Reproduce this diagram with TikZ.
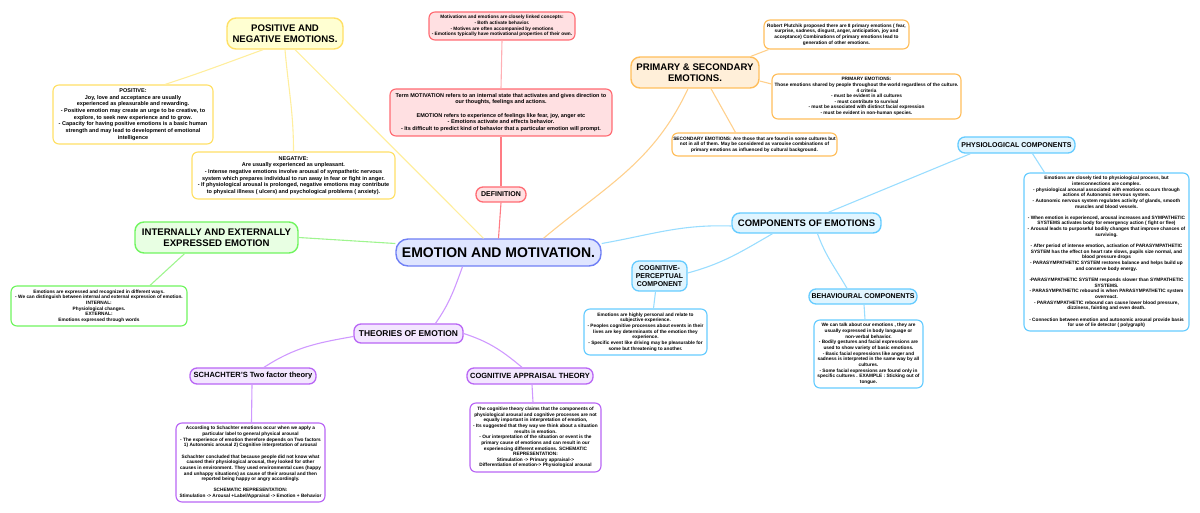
\documentclass[tikz,border=0pt]{standalone}
\usepackage{fontspec}
\setmainfont{Liberation Sans}
\definecolor{yl}{HTML}{FFE066}
\definecolor{ylf}{HTML}{FFFFD2}
\definecolor{yll}{HTML}{FFEE9E}
\definecolor{rd}{HTML}{FF6B73}
\definecolor{rdf}{HTML}{FFE0E2}
\definecolor{rdl}{HTML}{FF7C84}
\definecolor{og}{HTML}{FFBE5C}
\definecolor{ogf}{HTML}{FFEFD9}
\definecolor{ogl}{HTML}{FFD08C}
\definecolor{bl}{HTML}{66CCFF}
\definecolor{blf}{HTML}{E0F5FF}
\definecolor{bll}{HTML}{99DDFF}
\definecolor{gn}{HTML}{70F55F}
\definecolor{gnf}{HTML}{E8FFE3}
\definecolor{gnl}{HTML}{9FF58F}
\definecolor{pu}{HTML}{B966F5}
\definecolor{puf}{HTML}{F3E6FF}
\definecolor{pul}{HTML}{CF99FF}
\definecolor{cn}{HTML}{6F7FF5}
\definecolor{cnf}{HTML}{DFE5FF}
\tikzset{
  wh/.style 2 args={minimum width=#1pt,minimum height=#2pt},
  leaf/.style={draw=#1,fill=white,line width=1.15pt,rounded corners=6pt,align=center,inner sep=0pt,
    font=\fontsize{4.75}{5.65}\selectfont\bfseries},
  leafbig/.style={draw=#1,fill=white,line width=1.15pt,rounded corners=6pt,align=center,inner sep=0pt,
    font=\fontsize{5.5}{6.67}\selectfont\bfseries},
  head/.style 2 args={draw=#1,fill=#2,line width=1.3pt,rounded corners=7pt,align=center,inner sep=0pt,
    font=\fontsize{7}{7.7}\selectfont\bfseries},
  headbig/.style 2 args={draw=#1,fill=#2,line width=1.4pt,rounded corners=9pt,align=center,inner sep=0pt,
    font=\fontsize{9.6}{11}\selectfont\bfseries},
  link/.style={draw=#1,line width=1.1pt}
}
\begin{document}
\begin{tikzpicture}[x=1pt,y=-1pt]
\useasboundingbox (0,0) rectangle (1200,513);
% centre
\node[headbig={cn}{cnf},wh={205}{27},rounded corners=12pt,font=\fontsize{14}{15}\selectfont\bfseries] (root) at (498.5,252.5) {EMOTION AND MOTIVATION.};
% definition
\node[head={rd}{rdf},wh={50}{15}] (defn) at (501,194.5) {DEFINITION};
\node[leafbig=rd,fill=rdf,wh={222}{47}] (defterm) at (501,112.5) {Term MOTIVATION refers to an internal state that activates and gives direction to\\our thoughts, feelings and actions.\\[6.67pt]EMOTION refers to experience of feelings like fear, joy, anger etc\\- Emotions activate and effects behavior.\\- Its difficult to predict kind of behavior that a particular emotion will prompt.};
\node[leaf=rd,fill=rdf,wh={146}{28}] (defmot) at (502,26) {Motivations and emotions are closely linked concepts:\\- Both activate behavior.\\- Motives are often accompanied by emotions\\- Emotions typically have motivational properties of their own.};
% positive and negative
\node[headbig={yl}{ylf},wh={116}{31}] (posneg) at (285,33.5) {POSITIVE AND\\NEGATIVE EMOTIONS.};
\node[leafbig=yl,wh={160}{59}] (pos) at (133,114.5) {POSITIVE:\\Joy, love and acceptance are usually\\experienced as pleasurable and rewarding.\\- Positive emotion may create an urge to be creative, to\\explore, to seek new experience and to grow.\\- Capacity for having positive emotions is a basic human\\strength and may lead to development of emotional\\intelligence};
\node[leafbig=yl,wh={203}{47}] (neg) at (293.5,175.5) {NEGATIVE:\\Are usually experienced as unpleasant.\\- Intense negative emotions involve arousal of sympathetic nervous\\system which prepares individual to run away in fear or fight in anger.\\- If physiological arousal is prolonged, negative emotions may contribute\\to physical illness ( ulcers) and psychological problems ( anxiety).};
% primary and secondary
\node[headbig={og}{ogf},wh={128}{31}] (prisec) at (695,72.5) {PRIMARY \& SECONDARY\\EMOTIONS.};
\node[leaf=og,wh={145}{29}] (plutchik) at (836.5,34.5) {Robert Plutchik proposed there are 8 primary emotions ( fear,\\surprise, sadness, disgust, anger, anticipation, joy and\\acceptance) Combinations of primary emotions lead to\\generation of other emotions.};
\node[leaf=og,wh={189}{45}] (prim) at (866.5,96.5) {PRIMARY EMOTIONS:\\Those emotions shared by people throughout the world regardless of the culture.\\4 criteria\\- must be evident in all cultures\\- must contribute to survival\\- must be associated with distinct facial expression\\- must be evident in non-human species.};
\node[leaf=og,wh={165}{23}] (sec) at (754.5,144.5) {SECONDARY EMOTIONS: Are those that are found in some cultures but\\not in all of them. May be considered as varouise combinations of\\primary emotions as influenced by cultural background.};
% components
\node[headbig={bl}{blf},wh={149}{20},rounded corners=8pt,font=\fontsize{9.5}{10}\selectfont\bfseries] (comp) at (806.5,223) {COMPONENTS OF EMOTIONS};
\node[head={bl}{blf},wh={117}{16}] (physio) at (1016.5,145) {PHYSIOLOGICAL COMPONENTS};
\node[leaf=bl,wh={165}{158}] (physiotxt) at (1106.5,252) {Emotions are closely tied to physiological process, but\\interconnections are complex.\\- physiological arousal associated with emotions occurs through\\actions of Autonomic nervous system.\\- Autonomic nervous system regulates activity of glands, smooth\\muscles and blood vessels.\\[5.65pt]- When emotion is experienced, arousal increases and SYMPATHETIC\\SYSTEMS activates body for emergency action ( fight or flee)\\- Arousal leads to purposeful bodily changes that improve chances of\\surviving.\\[5.65pt]- After period of intense emotion, activation of PARASYMPATHETIC\\SYSTEM has the effect on heart rate slows, pupils size normal, and\\blood pressure drops\\- PARASYMPATHETIC SYSTEM restores balance and helps build up\\and conserve body energy.\\[5.65pt]-PARASYMPATHETIC SYSTEM responds slower than SYMPATHETIC\\SYSTEMS.\\- PARASYMPATHETIC rebound is when PARASYMPATHETIC system\\overreact.\\- PARASYMPATHETIC rebound can cause lower blood pressure,\\dizziness, fainting and even death.\\[5.65pt]- Connection between emotion and autonomic arousal provide basis\\for use of lie detector ( polygraph)};
\node[head={bl}{blf},wh={55}{30}] (cogper) at (659.5,276) {COGNITIVE-\\PERCEPTUAL\\COMPONENT};
\node[leaf=bl,wh={123}{46}] (cogpertxt) at (645.5,332) {Emotions are highly personal and relate to\\subjective experience.\\- Peoples cognitive processes about events in their\\lives are key determinants of the emotion they\\experience.\\- Specific event like driving may be pleasurable for\\some but threatening to another.};
\node[head={bl}{blf},wh={108}{15}] (behav) at (863,296.5) {BEHAVIOURAL COMPONENTS};
\node[leaf=bl,wh={109}{68}] (behavtxt) at (868.5,354) {We can talk about our emotions , they are\\usually expressed in body language or\\non-verbal behavior.\\- Bodily gestures and facial expressions are\\used to show variety of basic emotions.\\- Basic facial expressions like anger and\\sadness is interpreted in the same way by all\\cultures.\\- Some facial expressions are found only in\\specific cultures . EXAMPLE : Sticking out of\\tongue.};
% internal and external
\node[headbig={gn}{gnf},wh={163}{31}] (intext) at (216.5,237.5) {INTERNALLY AND EXTERNALLY\\EXPRESSED EMOTION};
\node[leaf=gn,wh={176}{40}] (intexttxt) at (99,306) {Emotions are expressed and recognized in different ways.\\- We can distinguish between internal and external expression of emotion.\\INTERNAL:\\Physiological changes.\\EXTERNAL:\\Emotions expressed through words};
% theories
\node[head={pu}{puf},wh={109}{19},font=\fontsize{8.45}{9}\selectfont\bfseries] (theory) at (408.5,333.5) {THEORIES OF EMOTION};
\node[head={pu}{puf},wh={126}{16},font=\fontsize{7.5}{8}\selectfont\bfseries] (schach) at (253,376) {SCHACHTER'S Two factor theory};
\node[head={pu}{puf},wh={126}{16},font=\fontsize{7.5}{8}\selectfont\bfseries] (apprais) at (530,376) {COGNITIVE APPRAISAL THEORY};
\node[leaf=pu,wh={149}{79}] (schachtxt) at (250.5,462.5) {According to Schachter emotions occur when we apply a\\particular label to general physical arousal\\- The experience of emotion therefore depends on Two factors\\1) Autonomic arousal 2) Cognitive interpretation of arousal\\[5.65pt]Schachter concluded that because people did not know what\\caused their physiological arousal, they looked for other\\causes in environment. They used environmental cues (happy\\and unhappy situations) as cause of their arousal and then\\reported being happy or angry accordingly.\\[5.65pt]SCHEMATIC REPRESENTATION:\\Stimulation -> Arousal +Label/Appraisal -> Emotion + Behavior};
\node[leaf=pu,wh={131}{69}] (apprtxt) at (535.5,437.5) {The cognitive theory claims that the components of\\physiological arousal and cognitive processes are not\\equally important in interpretation of emotion,\\- Its suggested that they way we think about a situation\\results in emotion.\\- Our interpretation of the situation or event is the\\primary cause of emotions and can result in our\\experiencing different emotions. SCHEMATIC\\REPRESENTATION:\\Stimulation -> Primary appraisal->\\Differentiation of emotion-> Physiological arousal};
% connectors
\draw[link=rdl] (root.north) -- (defn.south);
\draw[link=rdl] (defn.north) -- (defterm.south);
\draw[link=rdl!60] (defterm.north) -- (defmot.south);
\draw[link=yll] ([xshift=-15pt]root.north) -- ([xshift=10pt]posneg.south);
\draw[link=yll] ([xshift=-22pt]posneg.south) to[out=-160,in=18] ([xshift=32pt]pos.north);
\draw[link=yll] (posneg.south) to[out=-85,in=90] (neg.north);
\draw[link=ogl] ([xshift=45pt]root.north) to[out=40,in=-115] ([xshift=-7pt]prisec.south);
\draw[link=ogl] ([xshift=16pt]prisec.south) -- ([xshift=-19pt]sec.north);
\draw[link=ogl] ([xshift=56pt]prisec.north) -- ([xshift=-68pt]plutchik.south);
\draw[link=ogl] ([yshift=-8.5pt]prisec.east) -- ([yshift=12.5pt]prim.west);
\draw[link=gnl] ([yshift=9pt]root.west) -- (intext.east);
\draw[link=gnl] ([xshift=-32pt]intext.south) -- ([xshift=51pt]intexttxt.north);
\draw[link=pul] ([xshift=-36pt]root.south) to[out=-110,in=55] ([xshift=27pt]theory.north);
\draw[link=pul] ([yshift=-3pt]theory.west) to[out=190,in=33] ([xshift=11pt]schach.north);
\draw[link=pul] (theory.east) to[out=-18,in=140] ([xshift=-8pt]apprais.north);
\draw[link=pul] ([xshift=-1pt]schach.south) -- ([xshift=1pt]schachtxt.north);
\draw[link=pul] ([xshift=2pt]apprais.south) -- ([xshift=-2.5pt]apprtxt.north);
\draw[link=bll] ([yshift=9pt]root.east) to[out=10,in=178] ([yshift=-3pt]comp.west);
\draw[link=bll] ([xshift=-34pt]comp.south) to[out=-150,in=15] ([yshift=3pt]cogper.east);
\draw[link=bll] ([xshift=11pt]comp.south) to[out=-70,in=120] ([xshift=-16pt]behav.north);
\draw[link=bll] ([xshift=22pt]comp.north) -- ([xshift=-46pt]physio.south);
\draw[link=bll] ([xshift=16pt]physio.south) -- ([xshift=-62pt]physiotxt.north);
\draw[link=bll] ([xshift=-4pt]cogper.south) -- ([xshift=8pt]cogpertxt.north);
\draw[link=bll] ([xshift=1pt]behav.south) -- ([xshift=-3.5pt]behavtxt.north);
\end{tikzpicture}
\end{document}
